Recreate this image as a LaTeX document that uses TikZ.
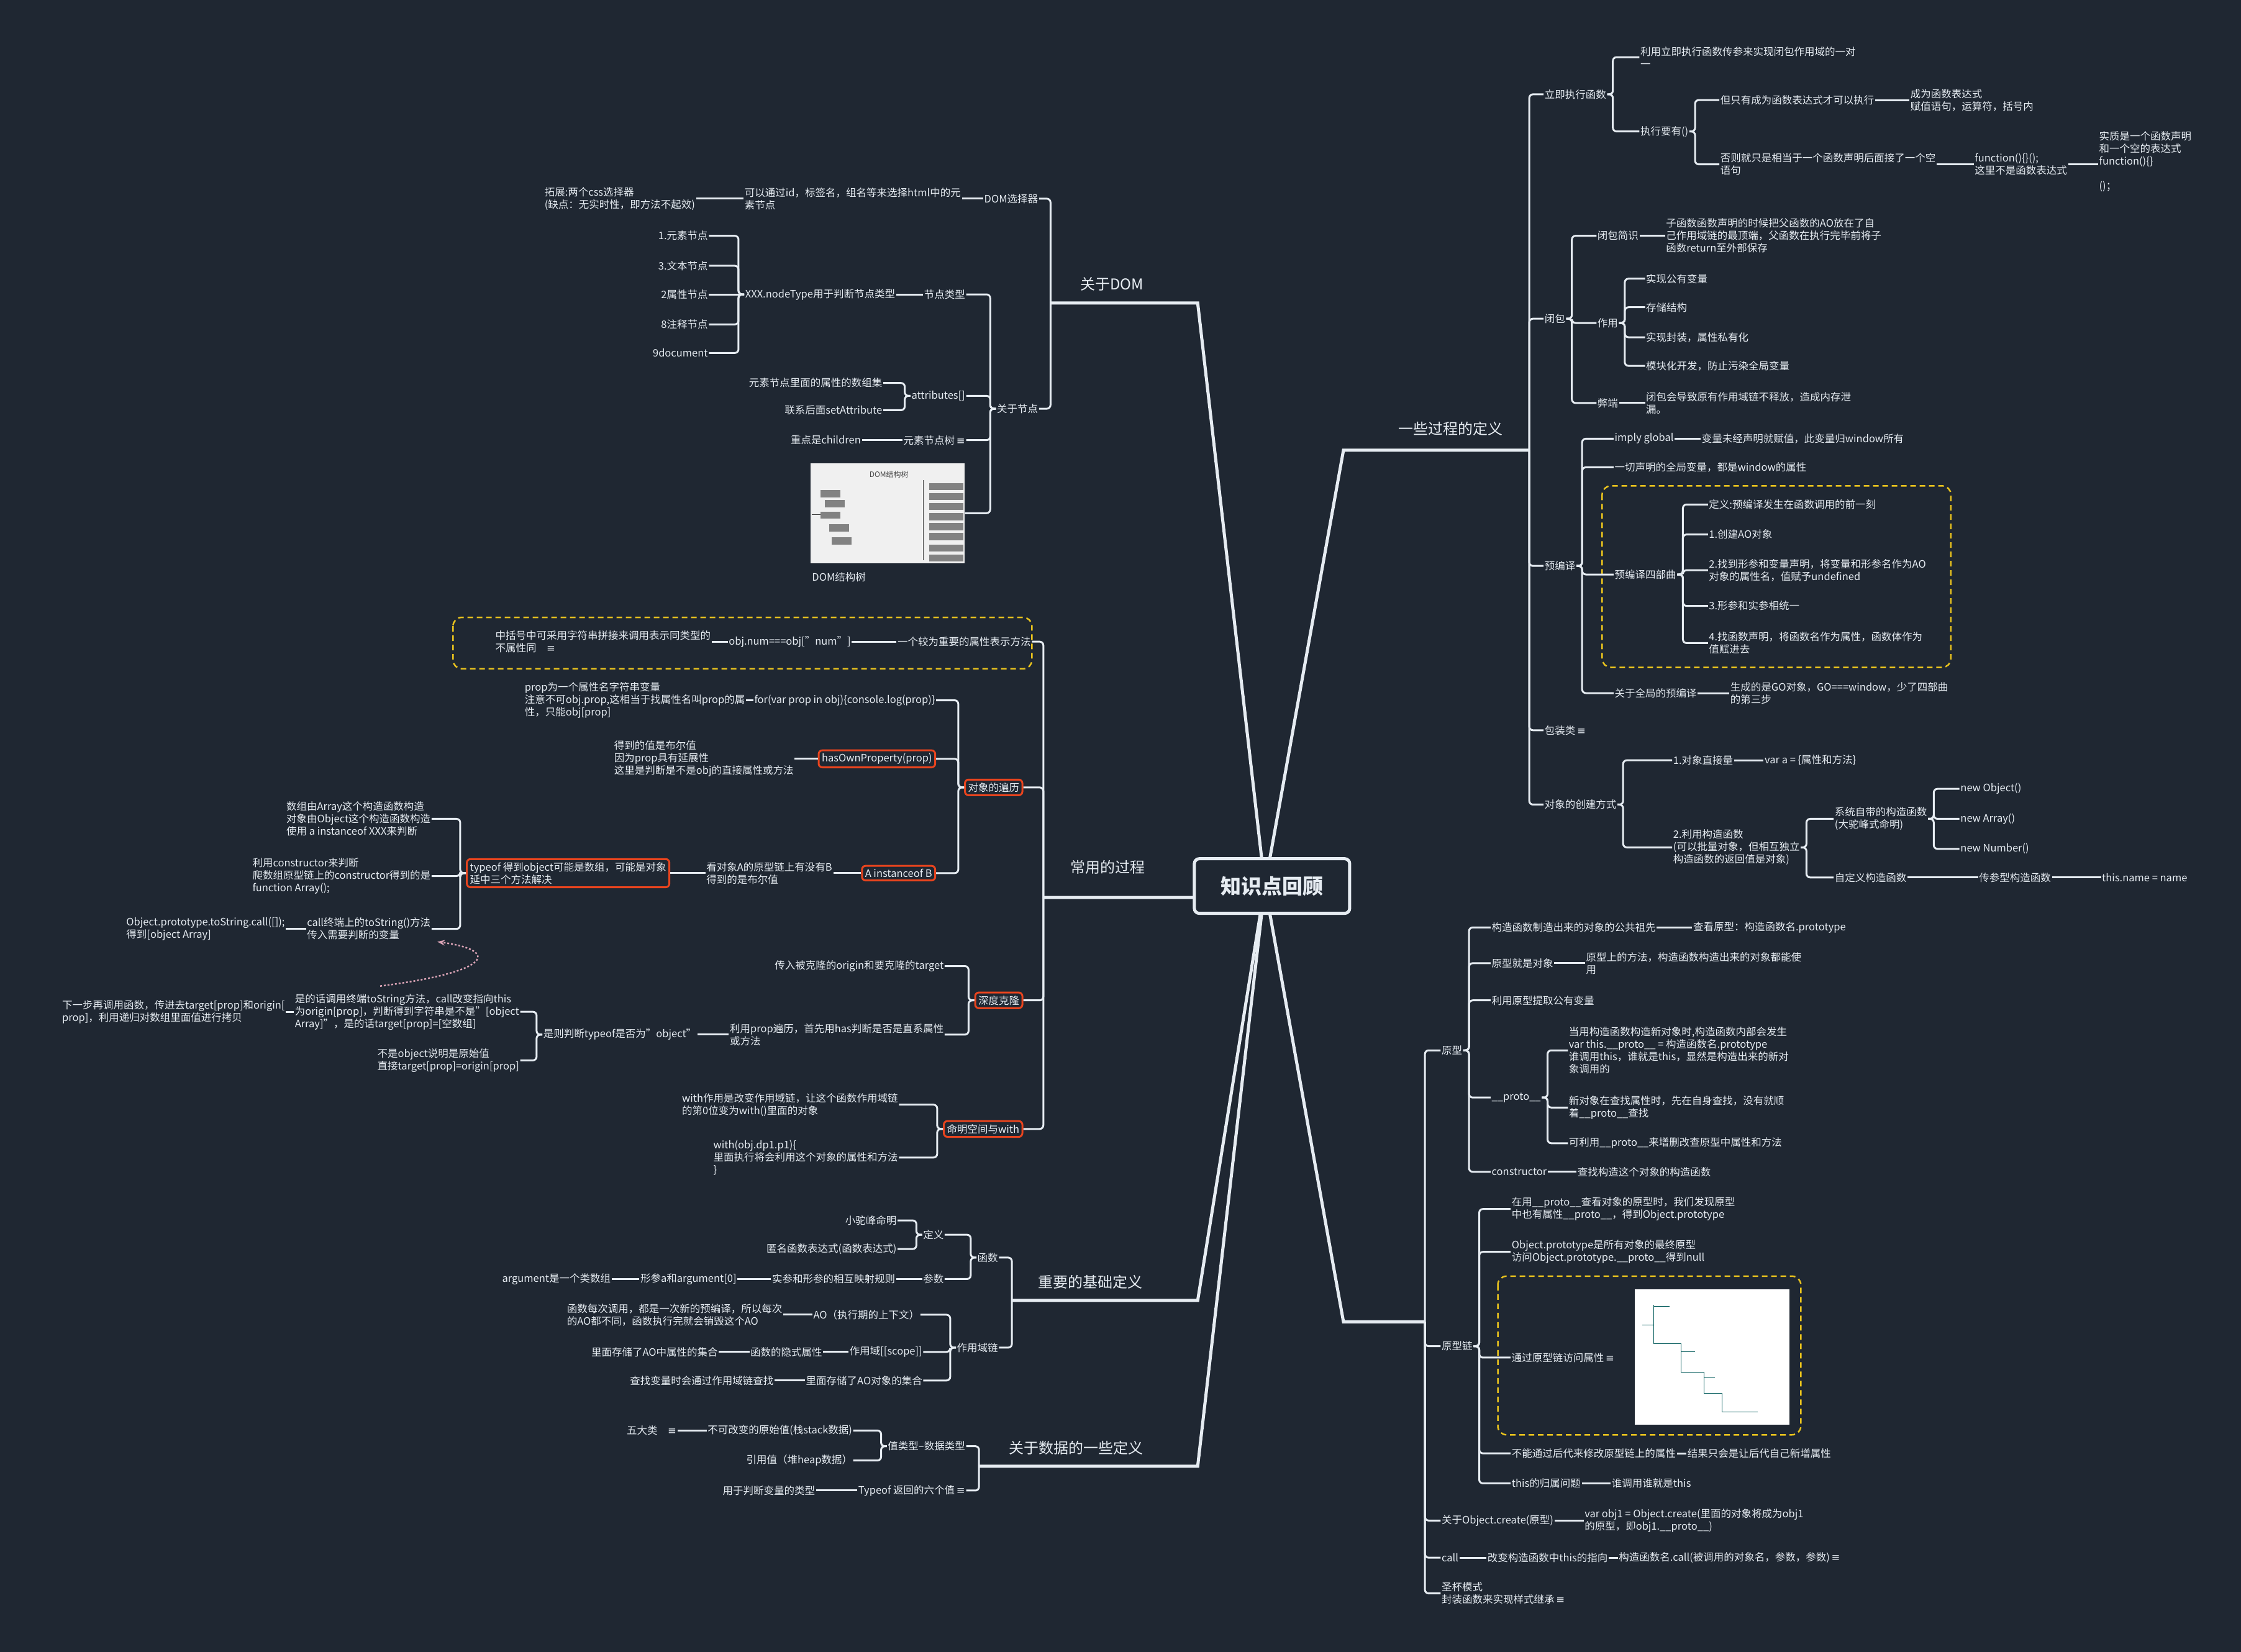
\documentclass[tikz,border=0pt]{standalone}
\usepackage{fontspec}
\setmainfont{Noto Sans CJK SC}
\newfontfamily\dvfont{DejaVu Sans}
\usetikzlibrary{arrows.meta}
\definecolor{bgc}{HTML}{1F2732}
\definecolor{lc}{HTML}{E6ECF2}
\definecolor{rbc}{HTML}{E8441E}
\definecolor{ybc}{HTML}{E8C21E}
\definecolor{pkc}{HTML}{D8A2B4}
\newcommand\noteic{\,{\dvfont ≡}}
\newcommand\cR[2]{\draw[ln] (#1.east) -- ++(4,0) |- (#2.west);}
\newcommand\cL[2]{\draw[ln] (#1.west) -- ++(-4,0) |- (#2.east);}
\newcommand\sR[2]{\draw[ln] (#1.east) -- (#2.west |- #1.east);}
\newcommand\sL[2]{\draw[ln] (#1.west) -- (#2.east |- #1.west);}
\newcommand\bR[2]{\draw[ln] (#1) |- (#2.west);}
\newcommand\bL[2]{\draw[ln] (#1) |- (#2.east);}
\begin{document}
\begin{tikzpicture}[x=2.301pt,y=-2.301pt,
 t/.style={text=lc, font=\fontsize{16.5}{20}\selectfont, inner sep=1.5pt, align=left},
 R/.style={t, anchor=west}, L/.style={t, anchor=east},
 ln/.style={draw=lc, line width=3pt, rounded corners=6pt},
 mln/.style={draw=lc, line width=5pt},
 rbox/.style={draw=rbc, line width=3pt, rounded corners=6pt, inner sep=5pt},
 ybox/.style={draw=ybc, line width=2.5pt, dashed, dash pattern=on 9pt off 6pt, rounded corners=14pt},
 big/.style={text=lc, font=\fontsize{24}{28}\selectfont}]
\fill[bgc] (0,0) rectangle (1568,1156);
\useasboundingbox (0,0) rectangle (1568,1156);
% yellow boxes
\draw[ybox] (1121,340) rectangle (1365,467);
\draw[ybox] (1048,893) rectangle (1260,1004);
\draw[ybox] (317,432) rectangle (722,468);
% main connectors
\coordinate (cc) at (885,620);
\coordinate (e1) at (940,315); \coordinate (b1) at (1070,315);
\coordinate (e2) at (838,212); \coordinate (b2) at (735,212);
\coordinate (e3) at (835,628); \coordinate (b3) at (730,628);
\coordinate (e4) at (838,910); \coordinate (b4) at (708,910);
\coordinate (e5) at (838,1026); \coordinate (b5) at (685,1026);
\coordinate (e6) at (940,925); \coordinate (b6) at (997,925);
\draw[mln] (cc) -- (e1) -- (b1);
\draw[mln] (cc) -- (e2) -- (b2);
\draw[mln] (cc) -- (e3) -- (b3);
\draw[mln] (cc) -- (e4) -- (b4);
\draw[mln] (cc) -- (e5) -- (b5);
\draw[mln] (cc) -- (e6) -- (b6);
\node[draw=lc, fill=bgc, line width=5pt, rounded corners=8pt, minimum width=250pt, minimum height=88pt, text=lc, font=\fontsize{33}{38}\selectfont\bfseries] (c) at (890,620) {知识点回顾};
\node[big] (m1) at (1015,300) {一些过程的定义};
\node[big] (m2) at (778,199) {关于DOM};
\node[big] (m3) at (775,607) {常用的过程};
\node[big] (m4) at (763,897) {重要的基础定义};
\node[big] (m5) at (753,1013) {关于数据的一些定义};
% ===== top right
\node[R] (a1) at (1080,66) {立即执行函数};
\node[R] (a2) at (1080,223) {闭包};
\node[R] (a3) at (1080,396) {预编译};
\node[R] (a4) at (1080,511) {包装类\noteic};
\node[R] (a5) at (1080,563) {对象的创建方式};
\foreach \n in {a1,a2,a3,a4,a5} {\bR{b1}{\n}}
\node[R] (a11) at (1147,40) {利用立即执行函数传参来实现闭包作用域的一对\\一};
\node[R] (a12) at (1147,92) {执行要有()};
\cR{a1}{a11}\cR{a1}{a12}
\node[R] (a121) at (1203,70) {但只有成为函数表达式才可以执行};
\node[R] (a122) at (1203,115) {否则就只是相当于一个函数声明后面接了一个空\\语句};
\cR{a12}{a121}\cR{a12}{a122}
\node[R] (a1211) at (1336,70) {成为函数表达式\\赋值语句，运算符，括号内};
\sR{a121}{a1211}
\node[R] (a1221) at (1381,115) {function()\{\}();\\这里不是函数表达式};
\sR{a122}{a1221}
\node[R] (a1222) at (1468,113) {实质是一个函数声明\\和一个空的表达式\\function()\{\}\\\\ ()；};
\sR{a1221}{a1222}
\node[R] (a21) at (1117,165) {闭包简识};
\node[R] (a22) at (1117,226) {作用};
\node[R] (a23) at (1117,282) {弊端};
\cR{a2}{a21}\cR{a2}{a22}\cR{a2}{a23}
\node[R] (a211) at (1165,165) {子函数函数声明的时候把父函数的AO放在了自\\己作用域链的最顶端，父函数在执行完毕前将子\\函数return至外部保存};
\sR{a21}{a211}
\node[R] (a221) at (1151,195) {实现公有变量};
\node[R] (a222) at (1151,215) {存储结构};
\node[R] (a223) at (1151,236) {实现封装，属性私有化};
\node[R] (a224) at (1151,256) {模块化开发，防止污染全局变量};
\foreach \n in {a221,a222,a223,a224} {\cR{a22}{\n}}
\node[R] (a231) at (1151,282) {闭包会导致原有作用域链不释放，造成内存泄\\漏。};
\sR{a23}{a231}
\node[R] (a31) at (1129,307) {imply global};
\node[R] (a32) at (1129,327) {一切声明的全局变量，都是window的属性};
\node[R] (a33) at (1129,402) {预编译四部曲};
\node[R] (a34) at (1129,485) {关于全局的预编译};
\foreach \n in {a31,a32,a33,a34} {\cR{a3}{\n}}
\node[R] (a311) at (1190,307) {变量未经声明就赋值，此变量归window所有};
\sR{a31}{a311}
\node[R] (a331) at (1195,353) {定义:预编译发生在函数调用的前一刻};
\node[R] (a332) at (1195,374) {1.创建AO对象};
\node[R] (a333) at (1195,399) {2.找到形参和变量声明，将变量和形参名作为AO\\对象的属性名，值赋予undefined};
\node[R] (a334) at (1195,424) {3.形参和实参相统一};
\node[R] (a335) at (1195,450) {4.找函数声明，将函数名作为属性，函数体作为\\值赋进去};
\foreach \n in {a331,a332,a333,a334,a335} {\cR{a33}{\n}}
\node[R] (a341) at (1210,485) {生成的是GO对象，GO===window，少了四部曲\\的第三步};
\sR{a34}{a341}
\node[R] (a51) at (1170,532) {1.对象直接量};
\node[R] (a52) at (1170,593) {2.利用构造函数\\(可以批量对象，但相互独立\\构造函数的返回值是对象)};
\cR{a5}{a51}\cR{a5}{a52}
\node[R] (a511) at (1234,532) {var a = \{属性和方法\}};
\sR{a51}{a511}
\node[R] (a521) at (1283,573) {系统自带的构造函数\\(大驼峰式命明)};
\node[R] (a522) at (1283,614) {自定义构造函数};
\cR{a52}{a521}\cR{a52}{a522}
\node[R] (a5211) at (1371,552) {new Object()};
\node[R] (a5212) at (1371,573) {new Array()};
\node[R] (a5213) at (1371,594) {new Number()};
\foreach \n in {a5211,a5212,a5213} {\cR{a521}{\n}}
\node[R] (a5221) at (1384,614) {传参型构造函数};
\sR{a522}{a5221}
\node[R] (a5222) at (1470,614) {this.name = name};
\sR{a5221}{a5222}
% ===== bottom right
\node[R] (p1) at (1008,735) {原型};
\node[R] (p2) at (1008,942) {原型链};
\node[R] (p3) at (1008,1064) {关于Object.create(原型)};
\node[R] (p4) at (1008,1090) {call};
\node[R] (p5) at (1008,1115) {圣杯模式\\封装函数来实现样式继承\noteic};
\foreach \n in {p1,p2,p3,p4,p5} {\bR{b6}{\n}}
\node[R] (p11) at (1043,649) {构造函数制造出来的对象的公共祖先};
\node[R] (p12) at (1043,674) {原型就是对象};
\node[R] (p13) at (1043,700) {利用原型提取公有变量};
\node[R] (p14) at (1043,768) {\_\_proto\_\_};
\node[R] (p15) at (1043,820) {constructor};
\foreach \n in {p11,p12,p13,p14,p15} {\cR{p1}{\n}}
\node[R] (p111) at (1184,649) {查看原型：构造函数名.prototype};
\sR{p11}{p111}
\node[R] (p121) at (1109,674) {原型上的方法，构造函数构造出来的对象都能使\\用};
\sR{p12}{p121}
\node[R] (p141) at (1097,735) {当用构造函数构造新对象时,构造函数内部会发生\\var this.\_\_proto\_\_ = 构造函数名.prototype\\谁调用this，谁就是this，显然是构造出来的新对\\象调用的};
\node[R] (p142) at (1097,775) {新对象在查找属性时，先在自身查找，没有就顺\\着\_\_proto\_\_查找};
\node[R] (p143) at (1097,800) {可利用\_\_proto\_\_来增删改查原型中属性和方法};
\cR{p14}{p141}\cR{p14}{p142}\cR{p14}{p143}
\node[R] (p151) at (1103,820) {查找构造这个对象的构造函数};
\sR{p15}{p151}
\node[R] (p21) at (1057,846) {在用\_\_proto\_\_查看对象的原型时，我们发现原型\\中也有属性\_\_proto\_\_，得到Object.prototype};
\node[R] (p22) at (1057,876) {Object.prototype是所有对象的最终原型\\访问Object.prototype.\_\_proto\_\_得到null};
\node[R] (p23) at (1057,950) {通过原型链访问属性\noteic};
\node[R] (p24) at (1057,1017) {不能通过后代来修改原型链上的属性};
\node[R] (p25) at (1057,1038) {this的归属问题};
\foreach \n in {p21,p22,p23,p24,p25} {\cR{p2}{\n}}
\node[R] (p241) at (1180,1017) {结果只会是让后代自己新增属性};
\sR{p24}{p241}
\node[R] (p251) at (1127,1038) {谁调用谁就是this};
\sR{p25}{p251}
% picture in proto chain box
\fill[white] (1144,902) rectangle (1252,997);
\draw[teal!70!black, line width=0.6pt] (1157,913) -- (1157,940) -- (1176,940) (1157,914) -- (1168,914)
 (1176,940) -- (1176,960) -- (1192,960) (1192,960) -- (1192,975) -- (1205,975) (1205,975) -- (1205,988) -- (1230,988)
 (1149,927) -- (1157,927) (1176,946) -- (1186,946) (1192,964) -- (1200,964);
\node[R] (p31) at (1108,1064) {var obj1 = Object.create(里面的对象将成为obj1\\的原型，即obj1.\_\_proto\_\_)};
\sR{p3}{p31}
\node[R] (p41) at (1040,1090) {改变构造函数中this的指向};
\sR{p4}{p41}
\node[R] (p42) at (1132,1090) {构造函数名.call(被调用的对象名，参数，参数)\noteic};
\sR{p41}{p42}
% ===== DOM
\node[L] (d1) at (727,139) {DOM选择器};
\node[L] (d2) at (727,286) {关于节点};
\bL{b2}{d1}\bL{b2}{d2}
\node[L] (d11) at (673,139) {可以通过id，标签名，组名等来选择html中的元\\素节点};
\sL{d1}{d11}
\node[L] (d111) at (487,139) {拓展:两个css选择器\\(缺点：无实时性，即方法不起效)};
\sL{d11}{d111}
\node[L] (d21) at (676,206) {节点类型};
\node[L] (d22) at (676,277) {attributes[]};
\node[L] (d23) at (676,308) {元素节点树\noteic};
\cL{d2}{d21}\cL{d2}{d22}\cL{d2}{d23}
\node[L] (d211) at (627,206) {XXX.nodeType用于判断节点类型};
\sL{d21}{d211}
\node[L] (n1) at (496,165) {1.元素节点};
\node[L] (n2) at (496,186) {3.文本节点};
\node[L] (n3) at (496,206) {2属性节点};
\node[L] (n4) at (496,227) {8注释节点};
\node[L] (n5) at (496,247) {9document};
\foreach \n in {n1,n2,n4,n5} {\cL{d211}{\n}}
\sL{d211}{n3}
\node[L] (d221) at (618,268) {元素节点里面的属性的数组集};
\node[L] (d222) at (618,287) {联系后面setAttribute};
\cL{d22}{d221}\cL{d22}{d222}
\node[L] (d231) at (603,308) {重点是children};
\sL{d23}{d231}
\node[draw=none, fill=gray!12, minimum width=108*2.301pt, minimum height=70*2.301pt, anchor=north west, inner sep=0] (d24) at (567,324) {};
\node[font=\fontsize{12}{14}\selectfont, text=gray!60!black] at (622,332) {DOM结构树};
\foreach \yy/\xx in {343/574,350/577,358/574,367/580,376/582} {\fill[gray!60!black!70] (\xx,\yy) rectangle ++(14,5);}
\foreach \yy in {338,345,352,359,366,373,381,388} {\fill[gray!60!black!70] (650,\yy) rectangle ++(24,5);}
\draw[gray!50!black, line width=0.6pt] (646,336) -- (646,392) (568,360) -- (574,360);
\draw[ln] (d2.west) -- ++(-4,0) |- (d24.east);
\node[t] at (587,404) {DOM结构树};
% ===== 常用的过程
\node[L] (g1) at (722,449) {一个较为重要的属性表示方法};
\node[L, rbox] (g2) at (716,551) {对象的遍历};
\node[L, rbox] (g3) at (716,700) {深度克隆};
\node[L, rbox] (g4) at (716,790) {命明空间与with};
\foreach \n in {g1,g2,g3,g4} {\bL{b3}{\n}}
\node[L] (g11) at (596,449) {obj.num===obj["num"]};
\sL{g1}{g11}
\node[L] (g12) at (498,449) {中括号中可采用字符串拼接来调用表示同类型的\\不属性同\quad{\dvfont ≡}};
\sL{g11}{g12}
\node[L] (g21) at (655,490) {for(var prop in obj)\{console.log(prop)\}};
\node[L, rbox] (g22) at (655,531) {hasOwnProperty(prop)};
\node[L, rbox] (g23) at (655,611) {A instanceof B};
\cL{g2}{g21}\cL{g2}{g22}\cL{g2}{g23}
\node[L] (g211) at (522,490) {prop为一个属性名字符串变量\\注意不可obj.prop,这相当于找属性名叫prop的属\\性，只能obj[prop]};
\sL{g21}{g211}
\node[L] (g221) at (556,531) {得到的值是布尔值\\因为prop具有延展性\\这里是判断是不是obj的直接属性或方法};
\sL{g22}{g221}
\node[L] (g231) at (583,611) {看对象A的原型链上有没有B\\得到的是布尔值};
\sL{g23}{g231}
\node[L, rbox] (g232) at (469,611) {typeof 得到object可能是数组，可能是对象\\延中三个方法解决};
\sL{g231}{g232}
\node[L] (g2321) at (302,573) {数组由Array这个构造函数构造\\对象由Object这个构造函数构造\\使用 a instanceof XXX来判断};
\node[L] (g2322) at (302,613) {利用constructor来判断\\爬数组原型链上的constructor得到的是\\function Array();};
\node[L] (g2323) at (302,650) {call终端上的toString()方法\\传入需要判断的变量};
\cL{g232}{g2321}\cL{g232}{g2322}\cL{g232}{g2323}
\node[L] (g23231) at (200,650) {Object.prototype.toString.call([]);\\得到[object Array]};
\sL{g2323}{g23231}
\node[L] (g31) at (661,676) {传入被克隆的origin和要克隆的target};
\node[L] (g32) at (661,724) {利用prop遍历，首先用has判断是否是直系属性\\或方法};
\cL{g3}{g31}\cL{g3}{g32}
\node[L] (g321) at (488,724) {是则判断typeof是否为"object"};
\sL{g32}{g321}
\node[L] (g3211) at (364,708) {是的话调用终端toString方法，call改变指向this\\为origin[prop]，判断得到字符串是不是"[object\\Array]"，是的话target[prop]=[空数组]};
\node[L] (g3212) at (364,742) {不是object说明是原始值\\直接target[prop]=origin[prop]};
\cL{g321}{g3211}\cL{g321}{g3212}
\node[L] (g32111) at (200,708) {下一步再调用函数，传进去target[prop]和origin[\\prop]，利用递归对数组里面值进行拷贝};
\sL{g3211}{g32111}
\draw[pkc, line width=2.5pt, dashed, -{Stealth[length=12pt]}] (266,690) .. controls (345,680) and (350,665) .. (306,659);
\node[L] (g41) at (629,773) {with作用是改变作用域链，让这个函数作用域链\\的第0位变为with()里面的对象};
\node[L] (g42) at (629,810) {with(obj.dp1.p1)\{\\里面执行将会利用这个对象的属性和方法\\\}};
\cL{g4}{g41}\cL{g4}{g42}
% ===== 重要的基础定义
\node[L] (h1) at (699,880) {函数};
\node[L] (h2) at (699,943) {作用域链};
\bL{b4}{h1}\bL{b4}{h2}
\node[L] (h11) at (661,864) {定义};
\node[L] (h12) at (661,895) {参数};
\cL{h1}{h11}\cL{h1}{h12}
\node[L] (h111) at (628,854) {小驼峰命明};
\node[L] (h112) at (628,874) {匿名函数表达式(函数表达式)};
\cL{h11}{h111}\cL{h11}{h112}
\node[L] (h121) at (627,895) {实参和形参的相互映射规则};
\sL{h12}{h121}
\node[L] (h122) at (516,895) {形参a和argument[0]};
\sL{h121}{h122}
\node[L] (h123) at (428,895) {argument是一个类数组};
\sL{h122}{h123}
\node[L] (h21) at (644,920) {AO（执行期的上下文）};
\node[L] (h22) at (646,946) {作用域[[scope]]};
\node[L] (h23) at (646,966) {里面存储了AO对象的集合};
\cL{h2}{h21}\cL{h2}{h22}\cL{h2}{h23}
\node[L] (h211) at (548,920) {函数每次调用，都是一次新的预编译，所以每次\\的AO都不同，函数执行完就会销毁这个AO};
\sL{h21}{h211}
\node[L] (h221) at (576,946) {函数的隐式属性};
\sL{h22}{h221}
\node[L] (h222) at (503,946) {里面存储了AO中属性的集合};
\sL{h221}{h222}
\node[L] (h231) at (542,966) {查找变量时会通过作用域链查找};
\sL{h23}{h231}
% ===== 数据
\node[L] (k1) at (676,1012) {值类型--数据类型};
\node[L] (k2) at (676,1043) {Typeof 返回的六个值\noteic};
\bL{b5}{k1}\bL{b5}{k2}
\node[L] (k11) at (597,1001) {不可改变的原始值(栈stack数据)};
\node[L] (k12) at (597,1022) {引用值（堆heap数据）};
\cL{k1}{k11}\cL{k1}{k12}
\node[L] (k111) at (474,1001) {五大类\quad{\dvfont ≡}};
\sL{k11}{k111}
\node[L] (k21) at (571,1043) {用于判断变量的类型};
\sL{k2}{k21}
\end{tikzpicture}
\end{document}
